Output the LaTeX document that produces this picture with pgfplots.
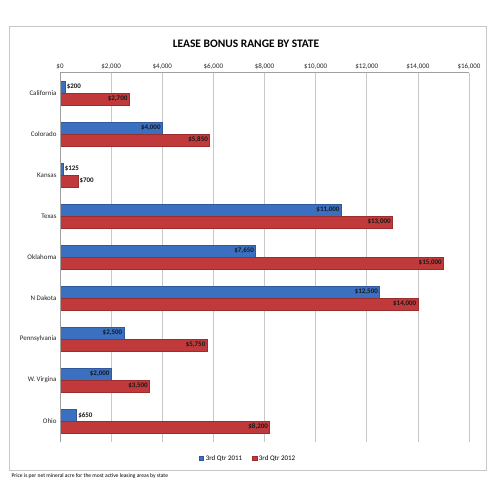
\documentclass[border=0pt]{standalone}
\usepackage{pgfplots}
\usepackage{pgfplotstable}
\pgfplotsset{compat=1.18}
\usepackage{fontspec}
\setmainfont{Carlito}

\definecolor{qblue}{RGB}{59,111,192}
\definecolor{qred}{RGB}{192,57,59}
\definecolor{gridgray}{RGB}{200,200,200}

% 2011
\pgfplotstableread{
y  val
0  200
1  4000
2  125
3  11000
4  7650
5  12500
6  2500
7  2000
8  650
}\qtrA
% 2012
\pgfplotstableread{
y  val
0  2700
1  5850
2  700
3  13000
4  15000
5  14000
6  5750
7  3500
8  8200
}\qtrB

\begin{document}
\begin{tikzpicture}[font=\fontsize{7}{8}\selectfont]
  \useasboundingbox[fill=white] (0,0) rectangle (495bp,495bp);
  \draw[gridgray] (9bp,25bp) rectangle (486bp,469bp);
  \node[font=\fontsize{11.5}{13}\selectfont\bfseries] at (246bp,451bp) {LEASE BONUS RANGE BY STATE};
  \node[anchor=west, font=\fontsize{5.6}{6.5}\selectfont] at (8bp,19bp) {Price is per net mineral acre for the most active leasing areas by state};
  \begin{axis}[
    at={(60bp,53.5bp)}, anchor=south west,
    scale only axis,
    width=409bp, height=369bp,
    xbar=0pt,
    bar width=12bp,
    xmin=0, xmax=16000,
    ymin=-0.5, ymax=8.5,
    y dir=reverse,
    ytick={0,...,8},
    yticklabels={California,Colorado,Kansas,Texas,Oklahoma,N Dakota,Pennsylvania,W. Virgina,Ohio},
    xtick={0,2000,...,16000},
    scaled x ticks=false,
    xticklabel pos=upper,
    xticklabel={\$\pgfmathprintnumber{\tick}},
    /pgf/number format/.cd, fixed, precision=0, 1000 sep={,}, assume math mode=true,
    /pgfplots/.cd,
    major tick length=0pt,
    axis line style={draw=none},
    xmajorgrids,
    grid style={gridgray, line width=0.6pt},
    tick label style={font=\fontsize{7}{8}\selectfont, text=black!85},
    point meta=x,
    visualization depends on={rawx \as \rx},
    nodes near coords={\bfseries\$\pgfmathprintnumber{\pgfplotspointmeta}},
    every node near coord/.append style={font=\fontsize{7}{8}\selectfont, inner sep=1.5pt, text=black!90},
    every node near coord/.append code={%
      \pgfmathparse{\rx<1000}%
      \ifdim\pgfmathresult pt>0.5pt \pgfkeysalso{anchor=west}\else\pgfkeysalso{anchor=east}\fi},
    legend style={draw=none, fill=none, at={(0.46,-0.046)}, anchor=center, font=\fontsize{7}{8}\selectfont, legend columns=2, /tikz/every even column/.append style={column sep=8bp}},
    legend image code/.code={\fill[#1] (0bp,-2.2bp) rectangle (4.4bp,2.2bp);},
  ]
    \addplot[fill=qblue, draw=qblue!80!black, bar shift=6bp] table[x=val, y=y] {\qtrA};
    \addplot[fill=qred, draw=qred!80!black, bar shift=-6bp] table[x=val, y=y] {\qtrB};
    \legend{3rd Qtr 2011, 3rd Qtr 2012}
    \draw[gridgray!80!black, line width=0.6pt] (rel axis cs:0,0) -- (rel axis cs:0,1);
    \draw[gridgray!80!black, line width=0.6pt] (rel axis cs:0,1) -- (rel axis cs:1,1);
  \end{axis}
\end{tikzpicture}
\end{document}
